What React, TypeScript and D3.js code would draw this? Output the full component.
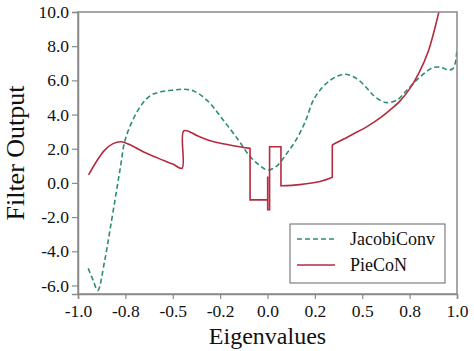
import { useEffect, useRef } from "react";
import * as d3 from "d3";

// eigenvalue grid
const jacobiX = [-0.946, -0.92, -0.896, -0.86, -0.831, -0.796, -0.775, -0.754, -0.719, -0.666, -0.615, -0.56, -0.5, -0.444, -0.39, -0.32, -0.233, -0.15, -0.1, -0.05, 0.0, 0.05, 0.1, 0.15, 0.2, 0.242, 0.29, 0.33, 0.37, 0.409, 0.471, 0.52, 0.558, 0.6, 0.629, 0.682, 0.735, 0.805, 0.875, 0.92, 0.946, 0.975, 0.99, 1.0];
const jacobiY = [-5.0, -5.7, -6.3, -4.6, -2.74, -0.41, 1.0, 2.4, 3.48, 4.55, 5.13, 5.33, 5.43, 5.48, 5.38, 4.84, 3.67, 2.45, 1.65, 1.1, 0.76, 1.0, 1.7, 2.5, 3.6, 4.84, 5.6, 6.0, 6.25, 6.36, 6.1, 5.6, 5.13, 4.8, 4.7, 4.84, 5.42, 6.2, 6.75, 6.75, 6.63, 6.65, 6.98, 7.85];

const pieX = [-0.944, -0.9, -0.859, -0.815, -0.771, -0.72, -0.648, -0.578, -0.5, -0.451, -0.441, -0.367, -0.303, -0.2, -0.092, -0.092, 0.001, 0.001, 0.001, 0.011, 0.011, 0.071, 0.071, 0.171, 0.277, 0.342, 0.342, 0.4, 0.45, 0.523, 0.6, 0.646, 0.7, 0.75, 0.8, 0.85, 0.9, 0.93];
const pieY = [0.47, 1.3, 1.92, 2.3, 2.41, 2.2, 1.78, 1.45, 1.1, 0.86, 3.05, 2.74, 2.47, 2.22, 2.02, -0.99, -0.99, 0.37, -1.57, -1.57, 2.12, 2.12, -0.17, -0.1, 0.08, 0.33, 2.22, 2.55, 2.85, 3.28, 3.85, 4.26, 4.8, 5.5, 6.45, 7.75, 9.8, 11.3];

const xTicks = [-1, -0.75, -0.5, -0.25, 0, 0.25, 0.5, 0.75, 1];
const xTickLabels = ["-1.0", "-0.8", "-0.5", "-0.2", "0.0", "0.2", "0.5", "0.8", "1.0"];
const yTicks = [-6, -4, -2, 0, 2, 4, 6, 8, 10];
const yTickLabels = ["-6.0", "-4.0", "-2.0", "0.0", "2.0", "4.0", "6.0", "8.0", "10.0"];
const seriesNames = ["JacobiConv", "PieCoN"];

const W = 474;
const H = 351;
const m = { left: 78, right: 17, top: 12, bottom: 57 };
const green = "#2b8c76";
const red = "#b52b3e";
const font = "'Liberation Serif', serif";

export default function App() {
  const svgRef = useRef<SVGSVGElement>(null);

  useEffect(() => {
    const svg = d3.select(svgRef.current);
    svg.selectAll("*").remove();

    const x = d3.scaleLinear().domain([-1, 1]).range([m.left, W - m.right]);
    const y = d3.scaleLinear().domain([-6.5, 10]).range([H - m.bottom, m.top]);

    svg
      .append("clipPath")
      .attr("id", "plot-clip")
      .append("rect")
      .attr("x", m.left)
      .attr("y", m.top)
      .attr("width", W - m.left - m.right)
      .attr("height", H - m.top - m.bottom);

    const smooth = d3
      .line<[number, number]>()
      .x((d) => x(d[0]))
      .y((d) => y(d[1]))
      .curve(d3.curveCatmullRom.alpha(0.5));

    const jacobi: [number, number][] = jacobiX.map((v, i) => [v, jacobiY[i]]);
    svg
      .append("path")
      .attr("d", smooth(jacobi))
      .attr("fill", "none")
      .attr("stroke", green)
      .attr("stroke-width", 1.6)
      .attr("stroke-dasharray", "5,3")
      .attr("clip-path", "url(#plot-clip)");

    // PieCoN is piecewise: a repeated x starts a new smooth piece, joined by a straight jump
    const pieces: [number, number][][] = [[]];
    pieX.forEach((v, i) => {
      const cur = pieces[pieces.length - 1];
      if (cur.length && cur[cur.length - 1][0] === v) pieces.push([]);
      pieces[pieces.length - 1].push([v, pieY[i]]);
    });
    const pieD = pieces
      .map((p, i) => {
        const s = p.length > 1 ? smooth(p) || "" : `M${x(p[0][0])},${y(p[0][1])}`;
        return i === 0 ? s : "L" + s.slice(1);
      })
      .join("");
    svg
      .append("path")
      .attr("d", pieD)
      .attr("fill", "none")
      .attr("stroke", red)
      .attr("stroke-width", 1.6)
      .attr("stroke-linejoin", "miter")
      .attr("clip-path", "url(#plot-clip)");

    // frame
    const axisColor = "#8a8a8a";
    svg
      .append("rect")
      .attr("x", m.left)
      .attr("y", m.top)
      .attr("width", W - m.left - m.right)
      .attr("height", H - m.top - m.bottom)
      .attr("fill", "none")
      .attr("stroke", axisColor)
      .attr("stroke-width", 1.5);

    const xAxis = svg
      .append("g")
      .attr("transform", `translate(0,${H - m.bottom})`)
      .call(
        d3
          .axisBottom(x)
          .tickValues(xTicks)
          .tickSize(5)
          .tickFormat((_, i) => xTickLabels[i])
      );
    const yAxis = svg
      .append("g")
      .attr("transform", `translate(${m.left},0)`)
      .call(
        d3
          .axisLeft(y)
          .tickValues(yTicks)
          .tickSize(6)
          .tickPadding(3)
          .tickFormat((_, i) => yTickLabels[i])
      );
    [xAxis, yAxis].forEach((g) => {
      g.attr("font-family", null).attr("font-size", null);
      g.select(".domain").attr("stroke", axisColor).attr("stroke-width", 1.5);
      g.selectAll(".tick line").attr("stroke", axisColor).attr("stroke-width", 1.2);
      g.selectAll(".tick text")
        .attr("fill", "#111")
        .style("font-family", font)
        .style("font-size", "17.5px");
    });
    xAxis.selectAll(".tick text").attr("dy", "0.86em");

    svg
      .append("text")
      .attr("x", (m.left + W - m.right) / 2)
      .attr("y", 344)
      .attr("text-anchor", "middle")
      .style("font-family", font)
      .style("font-size", "24px")
      .attr("fill", "#111")
      .text("Eigenvalues");

    svg
      .append("text")
      .attr("transform", `translate(23.5,${(m.top + H - m.bottom) / 2}) rotate(-90)`)
      .attr("text-anchor", "middle")
      .style("font-family", font)
      .style("font-size", "26px")
      .attr("fill", "#111")
      .text("Filter Output");

    // legend
    const lg = svg.append("g");
    lg.append("rect")
      .attr("x", 290)
      .attr("y", 224)
      .attr("width", 155)
      .attr("height", 59)
      .attr("fill", "#fff")
      .attr("stroke", "#666")
      .attr("stroke-width", 1);
    seriesNames.forEach((name, i) => {
      const yy = 239 + i * 26;
      lg.append("line")
        .attr("x1", 297)
        .attr("x2", 335)
        .attr("y1", yy)
        .attr("y2", yy)
        .attr("stroke", i === 0 ? green : red)
        .attr("stroke-width", 1.6)
        .attr("stroke-dasharray", i === 0 ? "5,3" : null);
      lg.append("text")
        .attr("x", 350)
        .attr("y", yy + 6)
        .style("font-family", font)
        .style("font-size", "18px")
        .attr("fill", "#111")
        .text(name);
    });
  }, []);

  return (
    <svg
      ref={svgRef}
      width={W}
      height={H}
      style={{ display: "block", position: "absolute", left: 0, top: 0, background: "#fff" }}
    />
  );
}
